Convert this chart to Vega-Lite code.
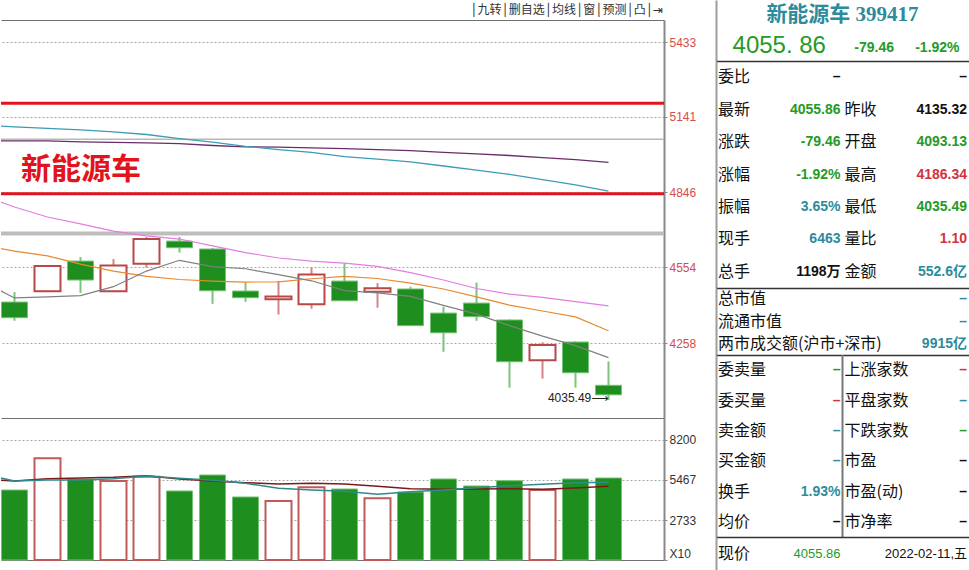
{
  "$schema": "https://vega.github.io/schema/vega-lite/v6.json",
  "background": "white",
  "padding": 0,
  "spacing": 20,
  "config": {
    "view": {"stroke": null, "fill": "white"},
    "font": "Liberation Sans",
    "axis": {"title": null, "labelFont": "Liberation Sans", "labelFontSize": 12},
    "scale": {"continuousPadding": 0}
  },
  "datasets": {
    "k": [
      {"i": 1, "o": 4418, "h": 4457, "l": 4345, "c": 4357, "v": 4783},
      {"i": 2, "o": 4460, "h": 4563, "l": 4457, "c": 4559, "v": 6949},
      {"i": 3, "o": 4578, "h": 4594, "l": 4454, "c": 4504, "v": 5535},
      {"i": 4, "o": 4460, "h": 4586, "l": 4457, "c": 4561, "v": 5398},
      {"i": 5, "o": 4568, "h": 4672, "l": 4552, "c": 4664, "v": 5692},
      {"i": 6, "o": 4656, "h": 4672, "l": 4611, "c": 4630, "v": 4715},
      {"i": 7, "o": 4625, "h": 4629, "l": 4411, "c": 4462, "v": 5808},
      {"i": 8, "o": 4461, "h": 4495, "l": 4419, "c": 4435, "v": 4305},
      {"i": 9, "o": 4429, "h": 4500, "l": 4369, "c": 4440, "v": 4032},
      {"i": 10, "o": 4409, "h": 4554, "l": 4392, "c": 4526, "v": 4968},
      {"i": 11, "o": 4500, "h": 4569, "l": 4422, "c": 4423, "v": 4851},
      {"i": 12, "o": 4458, "h": 4492, "l": 4396, "c": 4472, "v": 4216},
      {"i": 13, "o": 4469, "h": 4478, "l": 4326, "c": 4326, "v": 4646},
      {"i": 14, "o": 4375, "h": 4400, "l": 4224, "c": 4298, "v": 5535},
      {"i": 15, "o": 4414, "h": 4494, "l": 4345, "c": 4361, "v": 5057},
      {"i": 16, "o": 4348, "h": 4350, "l": 4084, "c": 4185, "v": 5419},
      {"i": 17, "o": 4191, "h": 4261, "l": 4119, "c": 4250, "v": 4783},
      {"i": 18, "o": 4262, "h": 4265, "l": 4084, "c": 4142, "v": 5535},
      {"i": 19, "o": 4093.13, "h": 4186.34, "l": 4035.49, "c": 4055.86, "v": 5603}
    ],
    "ma": [
      {"i": 0, "ma5": 4500, "ma10": 4641, "ma20": 4836, "ma60": 5109, "ma120": 5047, "vma5": 5535, "vma10": 5876},
      {"i": 1, "ma5": 4434, "ma10": 4617, "ma20": 4789, "ma60": 5102, "ma120": 5047, "vma5": 5398, "vma10": 5398},
      {"i": 2, "ma5": 4438, "ma10": 4598, "ma20": 4750, "ma60": 5096, "ma120": 5047, "vma5": 5555, "vma10": 5466},
      {"i": 3, "ma5": 4443, "ma10": 4566, "ma20": 4723, "ma60": 5090, "ma120": 5043, "vma5": 5603, "vma10": 5466},
      {"i": 4, "ma5": 4478, "ma10": 4539, "ma20": 4695, "ma60": 5082, "ma120": 5041, "vma5": 5651, "vma10": 5555},
      {"i": 5, "ma5": 4539, "ma10": 4518, "ma20": 4676, "ma60": 5072, "ma120": 5039, "vma5": 5760, "vma10": 5740},
      {"i": 6, "ma5": 4581, "ma10": 4506, "ma20": 4664, "ma60": 5056, "ma120": 5036, "vma5": 5535, "vma10": 5583},
      {"i": 7, "ma5": 4556, "ma10": 4500, "ma20": 4637, "ma60": 5042, "ma120": 5029, "vma5": 5398, "vma10": 5446},
      {"i": 8, "ma5": 4548, "ma10": 4496, "ma20": 4611, "ma60": 5026, "ma120": 5024, "vma5": 5282, "vma10": 5241},
      {"i": 9, "ma5": 4525, "ma10": 4497, "ma20": 4590, "ma60": 5013, "ma120": 5023, "vma5": 5193, "vma10": 4899},
      {"i": 10, "ma5": 4501, "ma10": 4509, "ma20": 4578, "ma60": 5002, "ma120": 5020, "vma5": 5241, "vma10": 4783},
      {"i": 11, "ma5": 4463, "ma10": 4518, "ma20": 4570, "ma60": 4986, "ma120": 5017, "vma5": 5193, "vma10": 4694},
      {"i": 12, "ma5": 4454, "ma10": 4510, "ma20": 4557, "ma60": 4976, "ma120": 5013, "vma5": 5036, "vma10": 4489},
      {"i": 13, "ma5": 4440, "ma10": 4492, "ma20": 4533, "ma60": 4965, "ma120": 5009, "vma5": 4872, "vma10": 4667},
      {"i": 14, "ma5": 4405, "ma10": 4469, "ma20": 4504, "ma60": 4949, "ma120": 5002, "vma5": 4831, "vma10": 4783},
      {"i": 15, "ma5": 4371, "ma10": 4438, "ma20": 4471, "ma60": 4933, "ma120": 4996, "vma5": 4851, "vma10": 4940},
      {"i": 16, "ma5": 4326, "ma10": 4406, "ma20": 4449, "ma60": 4916, "ma120": 4990, "vma5": 4872, "vma10": 5077},
      {"i": 17, "ma5": 4285, "ma10": 4383, "ma20": 4436, "ma60": 4896, "ma120": 4982, "vma5": 4831, "vma10": 5173},
      {"i": 18, "ma5": 4248, "ma10": 4360, "ma20": 4420, "ma60": 4875, "ma120": 4974, "vma5": 4920, "vma10": 5282},
      {"i": 19, "ma5": 4201, "ma10": 4306, "ma20": 4403, "ma60": 4851, "ma120": 4963, "vma5": 5036, "vma10": 5309}
    ],
    "tbl": [
      {"sec": "H", "n": 1, "col": "value", "text": "新能源车 399417", "tone": "info"},
      {"sec": "H", "n": 2, "col": "value", "text": "4055. 86", "tone": "down"},
      {"sec": "H", "n": 2, "col": "label2", "text": "-79.46", "tone": "down"},
      {"sec": "H", "n": 2, "col": "value2", "text": "-1.92%", "tone": "down"},
      {"sec": "A", "n": 1, "col": "label", "text": "委比", "tone": "plain"},
      {"sec": "A", "n": 1, "col": "value", "text": "–", "tone": "plain"},
      {"sec": "A", "n": 1, "col": "value2", "text": "–", "tone": "plain"},
      {"sec": "A", "n": 2, "col": "label", "text": "最新", "tone": "plain"},
      {"sec": "A", "n": 2, "col": "value", "text": "4055.86", "tone": "down"},
      {"sec": "A", "n": 2, "col": "label2", "text": "昨收", "tone": "plain"},
      {"sec": "A", "n": 2, "col": "value2", "text": "4135.32", "tone": "plain"},
      {"sec": "A", "n": 3, "col": "label", "text": "涨跌", "tone": "plain"},
      {"sec": "A", "n": 3, "col": "value", "text": "-79.46", "tone": "down"},
      {"sec": "A", "n": 3, "col": "label2", "text": "开盘", "tone": "plain"},
      {"sec": "A", "n": 3, "col": "value2", "text": "4093.13", "tone": "down"},
      {"sec": "A", "n": 4, "col": "label", "text": "涨幅", "tone": "plain"},
      {"sec": "A", "n": 4, "col": "value", "text": "-1.92%", "tone": "down"},
      {"sec": "A", "n": 4, "col": "label2", "text": "最高", "tone": "plain"},
      {"sec": "A", "n": 4, "col": "value2", "text": "4186.34", "tone": "up"},
      {"sec": "A", "n": 5, "col": "label", "text": "振幅", "tone": "plain"},
      {"sec": "A", "n": 5, "col": "value", "text": "3.65%", "tone": "info"},
      {"sec": "A", "n": 5, "col": "label2", "text": "最低", "tone": "plain"},
      {"sec": "A", "n": 5, "col": "value2", "text": "4035.49", "tone": "down"},
      {"sec": "A", "n": 6, "col": "label", "text": "现手", "tone": "plain"},
      {"sec": "A", "n": 6, "col": "value", "text": "6463", "tone": "info"},
      {"sec": "A", "n": 6, "col": "label2", "text": "量比", "tone": "plain"},
      {"sec": "A", "n": 6, "col": "value2", "text": "1.10", "tone": "up"},
      {"sec": "A", "n": 7, "col": "label", "text": "总手", "tone": "plain"},
      {"sec": "A", "n": 7, "col": "value", "text": "1198万", "tone": "plain"},
      {"sec": "A", "n": 7, "col": "label2", "text": "金额", "tone": "plain"},
      {"sec": "A", "n": 7, "col": "value2", "text": "552.6亿", "tone": "info"},
      {"sec": "B", "n": 1, "col": "label", "text": "总市值", "tone": "plain"},
      {"sec": "B", "n": 1, "col": "value2", "text": "–", "tone": "info"},
      {"sec": "B", "n": 2, "col": "label", "text": "流通市值", "tone": "plain"},
      {"sec": "B", "n": 2, "col": "value2", "text": "–", "tone": "info"},
      {"sec": "B", "n": 3, "col": "label", "text": "两市成交额(沪市+深市)", "tone": "plain"},
      {"sec": "B", "n": 3, "col": "value2", "text": "9915亿", "tone": "info"},
      {"sec": "C", "n": 1, "col": "label", "text": "委卖量", "tone": "plain"},
      {"sec": "C", "n": 1, "col": "value", "text": "–", "tone": "down"},
      {"sec": "C", "n": 1, "col": "label2", "text": "上涨家数", "tone": "plain"},
      {"sec": "C", "n": 1, "col": "value2", "text": "–", "tone": "up"},
      {"sec": "C", "n": 2, "col": "label", "text": "委买量", "tone": "plain"},
      {"sec": "C", "n": 2, "col": "value", "text": "–", "tone": "up"},
      {"sec": "C", "n": 2, "col": "label2", "text": "平盘家数", "tone": "plain"},
      {"sec": "C", "n": 2, "col": "value2", "text": "–", "tone": "info"},
      {"sec": "C", "n": 3, "col": "label", "text": "卖金额", "tone": "plain"},
      {"sec": "C", "n": 3, "col": "value", "text": "–", "tone": "info"},
      {"sec": "C", "n": 3, "col": "label2", "text": "下跌家数", "tone": "plain"},
      {"sec": "C", "n": 3, "col": "value2", "text": "–", "tone": "down"},
      {"sec": "C", "n": 4, "col": "label", "text": "买金额", "tone": "plain"},
      {"sec": "C", "n": 4, "col": "value", "text": "–", "tone": "info"},
      {"sec": "C", "n": 4, "col": "label2", "text": "市盈", "tone": "plain"},
      {"sec": "C", "n": 4, "col": "value2", "text": "–", "tone": "plain"},
      {"sec": "C", "n": 5, "col": "label", "text": "换手", "tone": "plain"},
      {"sec": "C", "n": 5, "col": "value", "text": "1.93%", "tone": "info"},
      {"sec": "C", "n": 5, "col": "label2", "text": "市盈(动)", "tone": "plain"},
      {"sec": "C", "n": 5, "col": "value2", "text": "–", "tone": "plain"},
      {"sec": "C", "n": 6, "col": "label", "text": "均价", "tone": "plain"},
      {"sec": "C", "n": 6, "col": "value", "text": "–", "tone": "plain"},
      {"sec": "C", "n": 6, "col": "label2", "text": "市净率", "tone": "plain"},
      {"sec": "C", "n": 6, "col": "value2", "text": "–", "tone": "plain"},
      {"sec": "D", "n": 1, "col": "label", "text": "现价", "tone": "plain"},
      {"sec": "D", "n": 1, "col": "value", "text": "4055.86", "tone": "down"},
      {"sec": "D", "n": 1, "col": "value2", "text": "2022-02-11,五", "tone": "plain"}
    ]
  },
  "hconcat": [
    {
      "spacing": 0,
      "bounds": "flush",
      "vconcat": [
        {
          "width": 663,
          "height": 20,
          "data": {"values": [{"t": "│九转│删自选│均线│窗│预测│凸│⇥"}]},
          "mark": {"type": "text", "align": "right", "baseline": "bottom", "dx": -1, "dy": -3, "font": "DejaVu Sans, Noto Sans CJK SC", "fontSize": 12, "color": "#333333"},
          "encoding": {"x": {"value": "width"}, "y": {"value": "height"}, "text": {"field": "t"}}
        },
        {
          "width": 663,
          "height": 398,
          "layer": [
            {
              "data": {"values": [{"p": 5194}, {"p": 4841}]},
              "mark": {"type": "rule", "color": "#e3131b", "strokeWidth": 3, "clip": true},
              "encoding": {
                "y": {"field": "p", "type": "quantitative", "scale": {"domain": [3965.5, 5518.9], "nice": false, "zero": false, "padding": 0},
                  "axis": {"orient": "right", "values": [4258, 4554, 4846, 5141, 5433], "format": "d", "labelColor": "#d44c4c", "tickSize": 3, "tickColor": "#888888", "domainColor": "#888888", "domainWidth": 2, "grid": true, "gridDash": [2, 2], "gridColor": "#a8a8a8", "labelPadding": 2, "labelFlush": false}}
              }
            },
            {
              "data": {"values": [{"p": 5053}]},
              "mark": {"type": "rule", "color": "#b8b8b8", "strokeWidth": 1.5, "clip": true},
              "encoding": {"y": {"field": "p", "type": "quantitative"}}
            },
            {
              "data": {"values": [{"p": 4686}]},
              "mark": {"type": "rule", "color": "#bdbdbd", "strokeWidth": 4, "clip": true},
              "encoding": {"y": {"field": "p", "type": "quantitative"}}
            },
            {
              "data": {"name": "k"},
              "mark": {"type": "rule", "strokeWidth": 2},
              "encoding": {
                "x": {"field": "i", "type": "quantitative", "scale": {"domain": [0.591, 20.682], "nice": false, "zero": false, "padding": 0},
                  "axis": {"orient": "top", "labels": false, "ticks": false, "grid": false, "domainColor": "#707070", "domainWidth": 1}},
                "y": {"field": "l", "type": "quantitative"},
                "y2": {"field": "h"},
                "color": {"condition": {"test": "datum.c >= datum.o", "value": "#d58585"}, "value": "#7dc27d"}
              }
            },
            {
              "data": {"name": "k"},
              "mark": {"type": "bar", "width": 26},
              "encoding": {
                "x": {"field": "i", "type": "quantitative"},
                "y": {"field": "o", "type": "quantitative"},
                "y2": {"field": "c"},
                "fill": {"condition": {"test": "datum.c >= datum.o", "value": "#ffffff"}, "value": "#1e8f1e"},
                "stroke": {"condition": {"test": "datum.c >= datum.o", "value": "#b84848"}, "value": "#74c274"},
                "strokeWidth": {"condition": {"test": "datum.c >= datum.o", "value": 2}, "value": 1}
              }
            },
            {
              "data": {"name": "ma"},
              "mark": {"type": "line", "color": "#6a2c6a", "strokeWidth": 1.3, "clip": true},
              "encoding": {"x": {"field": "i", "type": "quantitative"}, "y": {"field": "ma120", "type": "quantitative"}}
            },
            {
              "data": {"name": "ma"},
              "mark": {"type": "line", "color": "#3b9cb3", "strokeWidth": 1.3, "clip": true},
              "encoding": {"x": {"field": "i", "type": "quantitative"}, "y": {"field": "ma60", "type": "quantitative"}}
            },
            {
              "data": {"name": "ma"},
              "mark": {"type": "line", "color": "#e27de2", "strokeWidth": 1.2, "clip": true},
              "encoding": {"x": {"field": "i", "type": "quantitative"}, "y": {"field": "ma20", "type": "quantitative"}}
            },
            {
              "data": {"name": "ma"},
              "mark": {"type": "line", "color": "#e8892f", "strokeWidth": 1.2, "clip": true},
              "encoding": {"x": {"field": "i", "type": "quantitative"}, "y": {"field": "ma10", "type": "quantitative"}}
            },
            {
              "data": {"name": "ma"},
              "mark": {"type": "line", "color": "#808080", "strokeWidth": 1.2, "clip": true},
              "encoding": {"x": {"field": "i", "type": "quantitative"}, "y": {"field": "ma5", "type": "quantitative"}}
            },
            {
              "data": {"values": [{"i": 1.2, "p": 4933, "t": "新能源车"}]},
              "mark": {"type": "text", "align": "left", "baseline": "middle", "font": "Noto Sans CJK SC", "fontWeight": "bold", "fontSize": 30, "color": "#e3131b"},
              "encoding": {"x": {"field": "i", "type": "quantitative"}, "y": {"field": "p", "type": "quantitative"}, "text": {"field": "t"}}
            },
            {
              "data": {"values": [{"i": 19, "p": 4035.49, "t": "4035.49⟶"}]},
              "mark": {"type": "text", "align": "right", "baseline": "middle", "dy": -2, "font": "Liberation Sans, DejaVu Sans", "fontSize": 12, "color": "#222222"},
              "encoding": {"x": {"field": "i", "type": "quantitative"}, "y": {"field": "p", "type": "quantitative"}, "text": {"field": "t"}}
            }
          ]
        },
        {
          "width": 663,
          "height": 142,
          "resolve": {"axis": {"x": "independent"}},
          "layer": [
            {
              "data": {"name": "k"},
              "mark": {"type": "bar", "width": 26},
              "encoding": {
                "x": {"field": "i", "type": "quantitative", "scale": {"domain": [0.591, 20.682], "nice": false, "zero": false, "padding": 0},
                  "axis": {"orient": "top", "labels": false, "ticks": false, "grid": false, "domainColor": "#707070", "domainWidth": 1}},
                "y": {"field": "v", "type": "quantitative", "scale": {"domain": [0, 9703], "nice": false, "padding": 0},
                  "axis": {"orient": "right", "values": [0, 2733, 5467, 8200], "format": "d", "labelExpr": "datum.value === 0 ? 'X10' : datum.label", "labelBaseline": {"condition": {"test": "datum.value === 0", "value": "bottom"}, "value": "middle"}, "labelColor": "#333333", "tickSize": 3, "tickColor": "#888888", "domainColor": "#888888", "domainWidth": 2, "grid": true, "gridDash": [2, 2], "gridColor": "#a8a8a8", "labelPadding": 2, "labelFlush": false}},
                "y2": {"datum": 0},
                "fill": {"condition": {"test": "datum.c >= datum.o", "value": "#ffffff"}, "value": "#1e8f1e"},
                "stroke": {"condition": {"test": "datum.c >= datum.o", "value": "#c05a5a"}, "value": "#74c274"},
                "strokeWidth": {"condition": {"test": "datum.c >= datum.o", "value": 2}, "value": 1}
              }
            },
            {
              "data": {"name": "ma"},
              "mark": {"type": "line", "color": "#7a1a1a", "strokeWidth": 1.5, "clip": true},
              "encoding": {
                "x": {"field": "i", "type": "quantitative", "axis": {"orient": "bottom", "labels": false, "ticks": false, "grid": false, "domainColor": "#707070", "domainWidth": 1}},
                "y": {"field": "vma5", "type": "quantitative"}
              }
            },
            {
              "data": {"name": "ma"},
              "mark": {"type": "line", "color": "#2e8b8b", "strokeWidth": 1.5, "clip": true},
              "encoding": {
                "x": {"field": "i", "type": "quantitative", "axis": null},
                "y": {"field": "vma10", "type": "quantitative"}
              }
            }
          ]
        }
      ]
    },
    {
      "spacing": 0,
      "bounds": "flush",
      "vconcat": [
        {
          "width": 253,
          "height": 61,
          "data": {"name": "tbl"},
          "transform": [{"filter": "datum.sec === 'H'"}],
          "layer": [
            {
              "transform": [{"filter": "datum.n === 1"}],
              "mark": {"type": "text", "align": "center", "baseline": "middle", "font": "Liberation Serif, Noto Sans CJK SC", "fontWeight": "bold", "fontSize": 21, "color": "#2e8b9b"},
              "encoding": {
                "x": {"field": "col", "type": "nominal", "bandPosition": 1, "scale": {"type": "band", "domain": ["label", "value", "label2", "value2"], "paddingInner": 0, "paddingOuter": 0}, "axis": null},
                "y": {"field": "n", "type": "ordinal", "bandPosition": 0.5, "scale": {"type": "band", "paddingInner": 0, "paddingOuter": 0}, "axis": {"orient": "left", "labels": false, "ticks": false, "grid": false, "domainColor": "#9d9d9d", "domainWidth": 2}},
                "text": {"field": "text"}
              }
            },
            {
              "transform": [{"filter": "datum.n === 2 && datum.col === 'value'"}],
              "mark": {"type": "text", "align": "center", "baseline": "middle", "font": "Liberation Sans", "fontSize": 24, "color": "#259a25"},
              "encoding": {
                "x": {"field": "col", "type": "nominal", "bandPosition": 0, "scale": {"type": "band", "domain": ["label", "value", "label2", "value2"], "paddingInner": 0, "paddingOuter": 0}, "axis": null},
                "y": {"field": "n", "type": "ordinal", "bandPosition": 0.5, "scale": {"type": "band", "paddingInner": 0, "paddingOuter": 0}, "axis": {"orient": "left", "labels": false, "ticks": false, "grid": false, "domainColor": "#9d9d9d", "domainWidth": 2}},
                "text": {"field": "text"}
              }
            },
            {
              "transform": [{"filter": "datum.n === 2 && datum.col !== 'value'"}],
              "mark": {"type": "text", "align": "center", "baseline": "middle", "dy": 2, "font": "Liberation Sans", "fontWeight": "bold", "fontSize": 14, "color": "#259a25"},
              "encoding": {
                "x": {"field": "col", "type": "nominal", "bandPosition": 0.5, "scale": {"type": "band", "domain": ["label", "value", "label2", "value2"], "paddingInner": 0, "paddingOuter": 0}, "axis": null},
                "y": {"field": "n", "type": "ordinal", "bandPosition": 0.5, "scale": {"type": "band", "paddingInner": 0, "paddingOuter": 0}, "axis": {"orient": "left", "labels": false, "ticks": false, "grid": false, "domainColor": "#9d9d9d", "domainWidth": 2}},
                "text": {"field": "text"}
              }
            }
          ]
        },
        {
          "width": 253,
          "height": 227,
          "data": {"name": "tbl"},
          "transform": [{"filter": "datum.sec === 'A'"}],
          "layer": [
            {
              "transform": [{"filter": "datum.col === 'label' || datum.col === 'label2'"}],
              "mark": {"type": "text", "align": "left", "baseline": "middle", "dx": 2, "font": "Noto Sans CJK SC", "fontSize": 16, "color": "#111111"},
              "encoding": {
                "x": {"field": "col", "type": "nominal", "bandPosition": 0, "scale": {"type": "band", "domain": ["label", "value", "label2", "value2"], "paddingInner": 0, "paddingOuter": 0}, "axis": {"orient": "top", "labels": false, "ticks": false, "grid": false, "domainColor": "#333333", "domainWidth": 1.5}},
                "y": {"field": "n", "type": "ordinal", "bandPosition": 0.5, "scale": {"type": "band", "paddingInner": 0, "paddingOuter": 0}, "axis": {"orient": "left", "labels": false, "ticks": false, "grid": false, "domainColor": "#9d9d9d", "domainWidth": 2}},
                "text": {"field": "text"}
              }
            },
            {
              "transform": [{"filter": "datum.col === 'value' || datum.col === 'value2'"}],
              "mark": {"type": "text", "align": "right", "baseline": "middle", "dx": -2, "font": "Liberation Sans, Noto Sans CJK SC", "fontWeight": "bold", "fontSize": 14},
              "encoding": {
                "x": {"field": "col", "type": "nominal", "bandPosition": 1, "scale": {"type": "band", "domain": ["label", "value", "label2", "value2"], "paddingInner": 0, "paddingOuter": 0}, "axis": {"orient": "top", "labels": false, "ticks": false, "grid": false, "domainColor": "#333333", "domainWidth": 1.5}},
                "y": {"field": "n", "type": "ordinal", "bandPosition": 0.5, "scale": {"type": "band", "paddingInner": 0, "paddingOuter": 0}, "axis": {"orient": "left", "labels": false, "ticks": false, "grid": false, "domainColor": "#9d9d9d", "domainWidth": 2}},
                "text": {"field": "text"},
                "color": {"field": "tone", "type": "nominal", "scale": {"domain": ["down", "up", "info", "plain"], "range": ["#259a25", "#d2323c", "#2e8b9b", "#111111"]}, "legend": null}
              }
            }
          ]
        },
        {
          "width": 253,
          "height": 67,
          "data": {"name": "tbl"},
          "transform": [{"filter": "datum.sec === 'B'"}],
          "layer": [
            {
              "transform": [{"filter": "datum.col === 'label' || datum.col === 'label2'"}],
              "mark": {"type": "text", "align": "left", "baseline": "middle", "dx": 2, "font": "Noto Sans CJK SC", "fontSize": 16, "color": "#111111"},
              "encoding": {
                "x": {"field": "col", "type": "nominal", "bandPosition": 0, "scale": {"type": "band", "domain": ["label", "value", "label2", "value2"], "paddingInner": 0, "paddingOuter": 0}, "axis": {"orient": "top", "labels": false, "ticks": false, "grid": false, "domainColor": "#333333", "domainWidth": 1.5}},
                "y": {"field": "n", "type": "ordinal", "bandPosition": 0.5, "scale": {"type": "band", "paddingInner": 0, "paddingOuter": 0}, "axis": {"orient": "left", "labels": false, "ticks": false, "grid": false, "domainColor": "#9d9d9d", "domainWidth": 2}},
                "text": {"field": "text"}
              }
            },
            {
              "transform": [{"filter": "datum.col === 'value' || datum.col === 'value2'"}],
              "mark": {"type": "text", "align": "right", "baseline": "middle", "dx": -2, "font": "Liberation Sans, Noto Sans CJK SC", "fontWeight": "bold", "fontSize": 14},
              "encoding": {
                "x": {"field": "col", "type": "nominal", "bandPosition": 1, "scale": {"type": "band", "domain": ["label", "value", "label2", "value2"], "paddingInner": 0, "paddingOuter": 0}, "axis": {"orient": "top", "labels": false, "ticks": false, "grid": false, "domainColor": "#333333", "domainWidth": 1.5}},
                "y": {"field": "n", "type": "ordinal", "bandPosition": 0.5, "scale": {"type": "band", "paddingInner": 0, "paddingOuter": 0}, "axis": {"orient": "left", "labels": false, "ticks": false, "grid": false, "domainColor": "#9d9d9d", "domainWidth": 2}},
                "text": {"field": "text"},
                "color": {"field": "tone", "type": "nominal", "scale": {"domain": ["down", "up", "info", "plain"], "range": ["#259a25", "#d2323c", "#2e8b9b", "#111111"]}, "legend": null}
              }
            }
          ]
        },
        {
          "width": 253,
          "height": 182,
          "data": {"name": "tbl"},
          "transform": [{"filter": "datum.sec === 'C'"}],
          "layer": [
            {
              "data": {"values": [{"col": "label2"}]},
              "mark": {"type": "rule", "color": "#777777", "strokeWidth": 2},
              "encoding": {
                "x": {"field": "col", "type": "nominal", "bandPosition": 0, "scale": {"type": "band", "domain": ["label", "value", "label2", "value2"], "paddingInner": 0, "paddingOuter": 0}, "axis": {"orient": "top", "labels": false, "ticks": false, "grid": false, "domainColor": "#333333", "domainWidth": 1.5}}
              }
            },
            {
              "transform": [{"filter": "datum.col === 'label' || datum.col === 'label2'"}],
              "mark": {"type": "text", "align": "left", "baseline": "middle", "dx": 2, "font": "Noto Sans CJK SC", "fontSize": 16, "color": "#111111"},
              "encoding": {
                "x": {"field": "col", "type": "nominal", "bandPosition": 0, "scale": {"type": "band", "domain": ["label", "value", "label2", "value2"], "paddingInner": 0, "paddingOuter": 0}, "axis": {"orient": "top", "labels": false, "ticks": false, "grid": false, "domainColor": "#333333", "domainWidth": 1.5}},
                "y": {"field": "n", "type": "ordinal", "bandPosition": 0.5, "scale": {"type": "band", "paddingInner": 0, "paddingOuter": 0}, "axis": {"orient": "left", "labels": false, "ticks": false, "grid": false, "domainColor": "#9d9d9d", "domainWidth": 2}},
                "text": {"field": "text"}
              }
            },
            {
              "transform": [{"filter": "datum.col === 'value' || datum.col === 'value2'"}],
              "mark": {"type": "text", "align": "right", "baseline": "middle", "dx": -2, "font": "Liberation Sans, Noto Sans CJK SC", "fontWeight": "bold", "fontSize": 14},
              "encoding": {
                "x": {"field": "col", "type": "nominal", "bandPosition": 1, "scale": {"type": "band", "domain": ["label", "value", "label2", "value2"], "paddingInner": 0, "paddingOuter": 0}, "axis": {"orient": "top", "labels": false, "ticks": false, "grid": false, "domainColor": "#333333", "domainWidth": 1.5}},
                "y": {"field": "n", "type": "ordinal", "bandPosition": 0.5, "scale": {"type": "band", "paddingInner": 0, "paddingOuter": 0}, "axis": {"orient": "left", "labels": false, "ticks": false, "grid": false, "domainColor": "#9d9d9d", "domainWidth": 2}},
                "text": {"field": "text"},
                "color": {"field": "tone", "type": "nominal", "scale": {"domain": ["down", "up", "info", "plain"], "range": ["#259a25", "#d2323c", "#2e8b9b", "#111111"]}, "legend": null}
              }
            }
          ]
        },
        {
          "width": 253,
          "height": 33,
          "data": {"name": "tbl"},
          "transform": [{"filter": "datum.sec === 'D'"}],
          "layer": [
            {
              "transform": [{"filter": "datum.col === 'label'"}],
              "mark": {"type": "text", "align": "left", "baseline": "middle", "dx": 2, "font": "Noto Sans CJK SC", "fontSize": 16, "color": "#111111"},
              "encoding": {
                "x": {"field": "col", "type": "nominal", "bandPosition": 0, "scale": {"type": "band", "domain": ["label", "value", "label2", "value2"], "paddingInner": 0, "paddingOuter": 0}, "axis": {"orient": "top", "labels": false, "ticks": false, "grid": false, "domainColor": "#333333", "domainWidth": 1.5}},
                "y": {"field": "n", "type": "ordinal", "bandPosition": 0.5, "scale": {"type": "band", "paddingInner": 0, "paddingOuter": 0}, "axis": {"orient": "left", "labels": false, "ticks": false, "grid": false, "domainColor": "#9d9d9d", "domainWidth": 2}},
                "text": {"field": "text"}
              }
            },
            {
              "transform": [{"filter": "datum.col !== 'label'"}],
              "mark": {"type": "text", "align": "right", "baseline": "middle", "dx": -2, "font": "Liberation Sans, Noto Sans CJK SC", "fontSize": 13},
              "encoding": {
                "x": {"field": "col", "type": "nominal", "bandPosition": 1, "scale": {"type": "band", "domain": ["label", "value", "label2", "value2"], "paddingInner": 0, "paddingOuter": 0}, "axis": {"orient": "top", "labels": false, "ticks": false, "grid": false, "domainColor": "#333333", "domainWidth": 1.5}},
                "y": {"field": "n", "type": "ordinal", "bandPosition": 0.5, "scale": {"type": "band", "paddingInner": 0, "paddingOuter": 0}, "axis": {"orient": "left", "labels": false, "ticks": false, "grid": false, "domainColor": "#9d9d9d", "domainWidth": 2}},
                "text": {"field": "text"},
                "color": {"field": "tone", "type": "nominal", "scale": {"domain": ["down", "plain"], "range": ["#56b356", "#222222"]}, "legend": null}
              }
            }
          ]
        }
      ]
    }
  ]
}
